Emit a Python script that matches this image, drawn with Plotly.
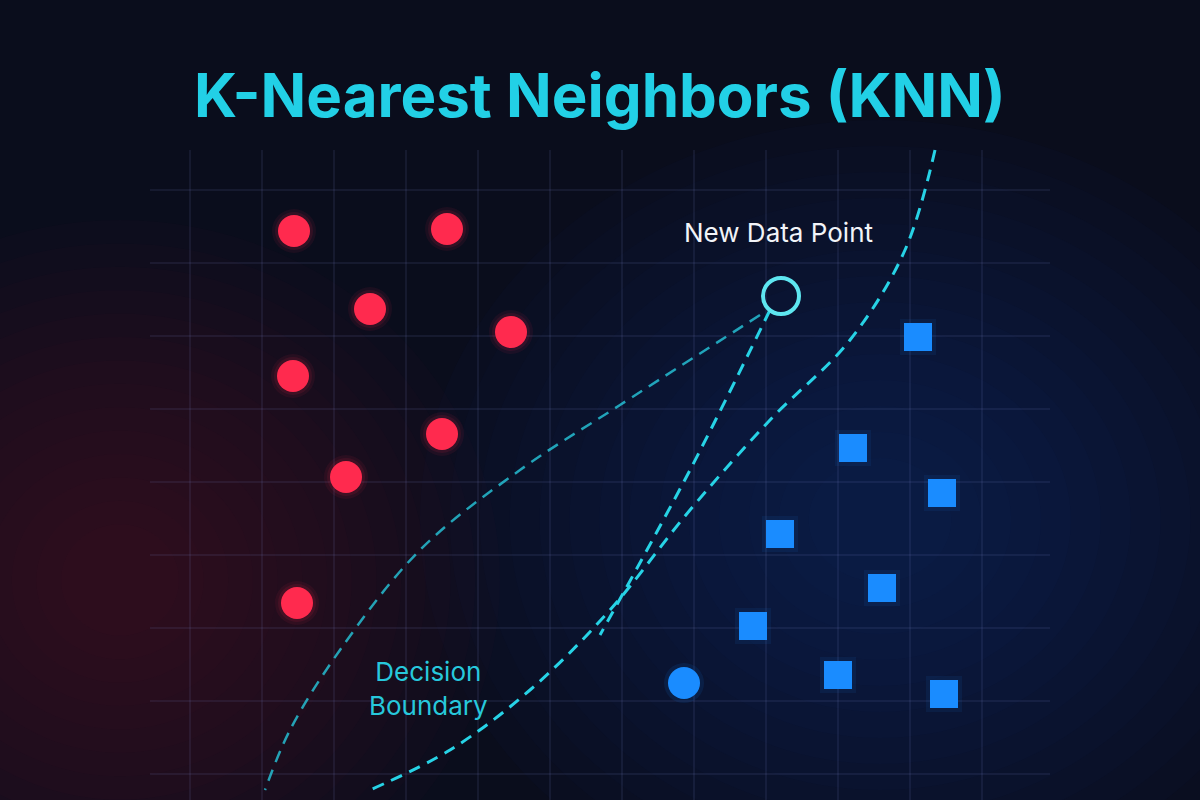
import plotly.graph_objects as go

red_x = [294, 447, 370, 511, 293, 442, 346, 297]
red_y = [231, 229, 309, 332, 376, 434, 477, 603]
blue_circle_x = [684]
blue_circle_y = [683]
sq_x = [918, 853, 942, 780, 882, 753, 838, 944]
sq_y = [337, 448, 493, 534, 588, 626, 675, 694]
new_x = [781]
new_y = [296]
link1_x = [770, 690, 600]
link1_y = [310, 470, 635]
link2_x = [760, 620, 520, 420, 340, 290, 265]
link2_y = [315, 405, 470, 550, 650, 730, 790]
bound_x = [935, 905, 850, 770, 690, 610, 530, 450, 370]
bound_y = [150, 250, 340, 420, 510, 610, 690, 750, 790]

BG = "#0a0d1c"
fig = go.Figure()

shapes = []
for i in range(14):
    r = 1 - i * 0.065
    shapes.append(dict(type="circle", xref="x", yref="y", layer="below",
                       x0=120 - 380 * r, x1=120 + 380 * r, y0=580 - 360 * r, y1=580 + 360 * r,
                       fillcolor="rgba(110,20,50,0.035)", line_width=0))
    shapes.append(dict(type="circle", xref="x", yref="y", layer="below",
                       x0=880 - 460 * r, x1=880 + 460 * r, y0=520 - 400 * r, y1=520 + 400 * r,
                       fillcolor="rgba(15,70,140,0.035)", line_width=0))
for gx in range(190, 1000, 72):
    shapes.append(dict(type="line", xref="x", yref="y", layer="below", x0=gx, x1=gx, y0=150, y1=800,
                       line=dict(color="rgba(120,130,190,0.16)", width=1.5)))
for gy in range(190, 800, 73):
    shapes.append(dict(type="line", xref="x", yref="y", layer="below", x0=150, x1=1050, y0=gy, y1=gy,
                       line=dict(color="rgba(120,130,190,0.16)", width=1.5)))

dash = dict(color="#27d3e6", width=3, dash="12px,8px")
fig.add_trace(go.Scatter(x=link1_x, y=link1_y, mode="lines", line=dash, line_shape="spline"))
fig.add_trace(go.Scatter(x=link2_x, y=link2_y, mode="lines", line=dict(color="#27c8dc", width=2.5, dash="12px,8px"), line_shape="spline", opacity=0.8))
fig.add_trace(go.Scatter(x=bound_x, y=bound_y, mode="lines", line=dash, line_shape="spline"))

fig.add_trace(go.Scatter(x=red_x, y=red_y, mode="markers", marker=dict(size=44, color="rgba(255,40,80,0.07)")))
fig.add_trace(go.Scatter(x=red_x, y=red_y, mode="markers", marker=dict(size=38, color="rgba(255,40,80,0.10)")))
fig.add_trace(go.Scatter(x=sq_x, y=sq_y, mode="markers", marker=dict(symbol="square", size=36, color="rgba(20,140,255,0.08)")))
fig.add_trace(go.Scatter(x=blue_circle_x, y=blue_circle_y, mode="markers", marker=dict(size=40, color="rgba(20,140,255,0.10)")))

fig.add_trace(go.Scatter(x=red_x, y=red_y, mode="markers", marker=dict(size=32, color="#ff2a4e")))
fig.add_trace(go.Scatter(x=blue_circle_x, y=blue_circle_y, mode="markers", marker=dict(size=32, color="#1a8cff")))
fig.add_trace(go.Scatter(x=sq_x, y=sq_y, mode="markers", marker=dict(symbol="square", size=28, color="#1a8cff")))
fig.add_trace(go.Scatter(x=new_x, y=new_y, mode="markers",
                         marker=dict(size=36, color="rgba(0,0,0,0)", line=dict(color="#5ee6f0", width=4))))

fig.update_layout(
    width=1200, height=800, margin=dict(l=0, r=0, t=0, b=0),
    paper_bgcolor=BG, plot_bgcolor=BG, showlegend=False, shapes=shapes,
    xaxis=dict(range=[0, 1200], visible=False, fixedrange=True),
    yaxis=dict(range=[800, 0], visible=False, fixedrange=True),
    annotations=[
        dict(x=600, y=95, xref="x", yref="y", text="<b>K-Nearest Neighbors (KNN)</b>", showarrow=False,
             font=dict(family="Inter", size=60, color="#22d0e6")),
        dict(x=778, y=232, xref="x", yref="y", text="New Data Point", showarrow=False,
             font=dict(family="Inter", size=26, color="#f2f4f8")),
        dict(x=428, y=688, xref="x", yref="y", text="Decision<br>Boundary", showarrow=False,
             font=dict(family="Inter", size=26, color="#27c8dc")),
    ],
)
fig.write_html("out.html", config={"displayModeBar": False},
               post_script="document.body.style.margin='0';document.body.style.background='#0a0d1c';")
